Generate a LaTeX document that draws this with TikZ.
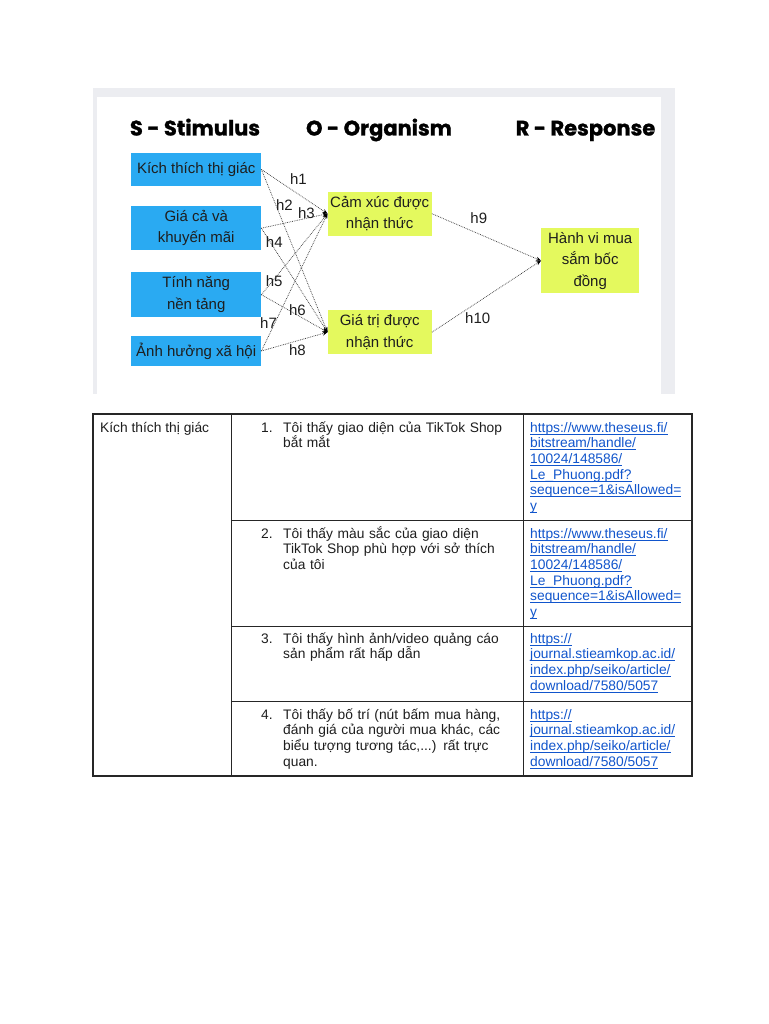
\documentclass[tikz,border=0pt]{standalone}
\usepackage{fontspec}
\setmainfont{Liberation Sans}
\newfontfamily\titlefont{Poppins}[FakeBold=1.2]
\usetikzlibrary{arrows.meta}
\definecolor{sblue}{HTML}{2AAAF2}
\definecolor{oyellow}{HTML}{E4F95E}
\definecolor{panelgray}{HTML}{ECEDF1}
\definecolor{linkblue}{HTML}{1155CC}
\definecolor{txt}{HTML}{1E1E1E}
\newcommand\ulink[1]{\leavevmode\setbox0\hbox{#1}\rlap{\vrule height -1.6pt depth 2.5pt width \wd0}\box0}
\begin{document}
\begin{tikzpicture}[x=1pt,y=-1pt,
  sbox/.style={fill=sblue,text=txt,inner sep=0pt,anchor=north west,align=center,font=\fontsize{15}{21.5}\selectfont},
  obox/.style={sbox,fill=oyellow},
  link/.style={densely dotted,line width=0.75pt,draw=black!75,-{Stealth[length=5pt,width=4pt,color=black]}},
  lbl/.style={font=\fontsize{15}{18}\selectfont,text=txt,inner sep=0pt},
  head/.style={font=\titlefont\bfseries\fontsize{21}{24}\selectfont,anchor=base},
  cell/.style={font=\fontsize{13.8}{15.7}\selectfont,text=txt,anchor=base west,inner sep=0pt,align=left},
  url/.style={cell,text=linkblue,text width=165}]
  \useasboundingbox[fill=white] (0,0) rectangle (768,1024);
  \fill[panelgray] (93,88) rectangle (675,394);
  \fill[white] (97,97) rectangle (661,394);
  \node[head] (tS) at (195,135.5) {S - Stimulus};
  \node[head] (tO) at (379,135.5) {O - Organism};
  \node[head] (tR) at (585.5,135.5) {R - Response};
  \node[sbox,minimum width=130,minimum height=33.5] (vis) at (131,152.5) {Kích thích thị giác};
  \node[sbox,minimum width=130,minimum height=44] (gia) at (131,206) {Giá cả và\\khuyến mãi};
  \node[sbox,minimum width=130,minimum height=45] (tinh) at (131,272) {Tính năng\\nền tảng};
  \node[sbox,minimum width=130,minimum height=29.5] (xh) at (131,336) {Ảnh hưởng xã hội};
  \node[obox,minimum width=104,minimum height=44] (cam) at (327.5,191.5) {Cảm xúc được\\nhận thức};
  \node[obox,minimum width=104,minimum height=44] (gt) at (327.5,310) {Giá trị được\\nhận thức};
  \node[obox,minimum width=98,minimum height=65] (hv) at (541,228) {Hành vi mua\\sắm bốc\\đồng};
  \draw[link] (vis.east) -- node[lbl,pos=.56,yshift=15.5] (lh1) {h1} (cam.west);
  \draw[link] (vis.east) -- node[lbl,pos=.22,xshift=8.5] (lh2) {h2} (gt.west);
  \draw[link] (gia.east) -- node[lbl,pos=.68,yshift=5] (lh3) {h3} (cam.west);
  \draw[link] (gia.east) -- node[lbl,pos=.135,xshift=4] (lh4) {h4} (gt.west);
  \draw[link] (tinh.east) -- node[lbl,pos=.17,xshift=1.5] (lh5) {h5} (cam.west);
  \draw[link] (tinh.east) -- node[lbl,pos=.545,yshift=5.5] (lh6) {h6} (gt.west);
  \draw[link] (xh.east) -- node[lbl,pos=.206,xshift=-6.5] (lh7) {h7} (cam.west);
  \draw[link] (xh.east) -- node[lbl,pos=.545,yshift=-9] (lh8) {h8} (gt.west);
  \draw[link] (cam.east) -- node[lbl,pos=.43,yshift=16] (lh9) {h9} (hv.west);
  \draw[link] (gt.east) -- node[lbl,pos=.42,yshift=-16] (lh10) {h10} (hv.west);
  \draw[line width=1.4pt,black!85] (93,414) rectangle (692,776);
  \draw[line width=1pt,black!85] (231,414) -- (231,776) (523,414) -- (523,776)
    (231,520) -- (692,520) (231,626) -- (692,626) (231,701) -- (692,701);
  \node[cell] (c1) at (100,432) {Kích thích thị giác};
  \node[cell] (n1) at (261,432) {1.};
  \node[cell,text width=235] (q1) at (283,432) {Tôi thấy giao diện của TikTok Shop\\bắt mắt};
  \node[url] (u1) at (530,432) {\ulink{https://www.theseus.fi/}\\\ulink{bitstream/handle/}\\\ulink{10024/148586/}\\\ulink{Le\_Phuong.pdf?}\\\ulink{sequence=1\&isAllowed=}\\\ulink{y}};
  \node[cell] (n2) at (261,538) {2.};
  \node[cell,text width=235] (q2) at (283,538) {Tôi thấy màu sắc của giao diện\\TikTok Shop phù hợp với sở thích\\của tôi};
  \node[url] (u2) at (530,538) {\ulink{https://www.theseus.fi/}\\\ulink{bitstream/handle/}\\\ulink{10024/148586/}\\\ulink{Le\_Phuong.pdf?}\\\ulink{sequence=1\&isAllowed=}\\\ulink{y}};
  \node[cell] (n3) at (261,643) {3.};
  \node[cell,text width=235] (q3) at (283,643) {Tôi thấy hình ảnh/video quảng cáo\\sản phẩm rất hấp dẫn};
  \node[url] (u3) at (530,643) {\ulink{https://}\\\ulink{journal.stieamkop.ac.id/}\\\ulink{index.php/seiko/article/}\\\ulink{download/7580/5057}};
  \node[cell] (n4) at (261,719) {4.};
  \node[cell,text width=235] (q4) at (283,719) {Tôi thấy bố trí (nút bấm mua hàng,\\đánh giá của người mua khác, các\\biểu tượng tương tác,...) rất trực\\quan.};
  \node[url] (u4) at (530,719) {\ulink{https://}\\\ulink{journal.stieamkop.ac.id/}\\\ulink{index.php/seiko/article/}\\\ulink{download/7580/5057}};
\end{tikzpicture}
\end{document}
